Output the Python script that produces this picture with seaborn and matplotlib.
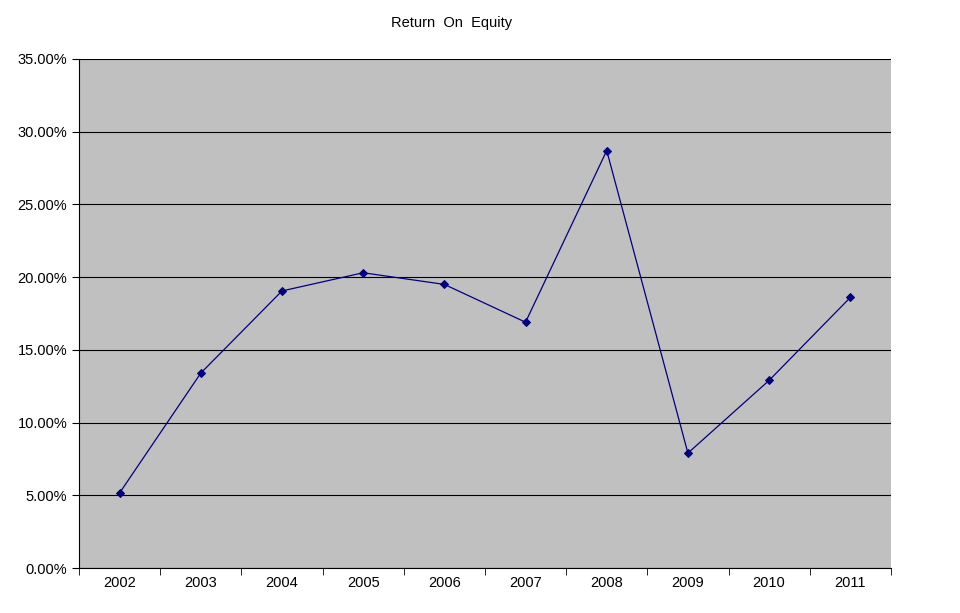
import matplotlib
matplotlib.use("Agg")
import matplotlib.pyplot as plt
import seaborn as sns
import pandas as pd
from matplotlib.ticker import FixedLocator, PercentFormatter

# Data
years = ["2002", "2003", "2004", "2005", "2006", "2007", "2008", "2009", "2010", "2011"]
roe = [5.16, 13.40, 19.05, 20.30, 19.50, 16.90, 28.70, 7.90, 12.90, 18.60]

df = pd.DataFrame({"pos": range(len(years)), "roe": roe})

sns.set_style("white")
plt.rcParams['font.family'] = ['Liberation Sans', 'DejaVu Sans']
plt.rcParams['text.color'] = 'black'
plt.rcParams['xtick.color'] = 'black'
plt.rcParams['ytick.color'] = 'black'

fig = plt.figure(figsize=(9.6, 6.13), dpi=100)
ax = fig.add_axes([0.0823, 0.0734, 0.8457, 0.8304])
ax.set_facecolor("#c0c0c0")

sns.lineplot(data=df, x="pos", y="roe", ax=ax, color="#000080", linewidth=0.9,
             marker="D", markersize=4.5, markeredgecolor="#000080")

ax.set_xlim(-0.5, len(years) - 0.5)
ax.set_ylim(0, 35)
ax.set_yticks([i * 5 for i in range(8)])
ax.yaxis.set_major_formatter(PercentFormatter(decimals=2))
ax.grid(axis="y", color="black", linewidth=0.8)
ax.set_axisbelow(True)

ax.set_xticks(range(len(years)))
ax.set_xticklabels(years)
ax.xaxis.set_minor_locator(FixedLocator([i - 0.5 for i in range(len(years) + 1)]))
ax.tick_params(axis="x", which="major", length=0, labelsize=10.5, pad=6, labelcolor="black")
ax.tick_params(axis="x", which="minor", length=5, direction="out", color="black")
ax.tick_params(axis="y", length=5, direction="out", labelsize=10.5, color="black", labelcolor="black")
ax.yaxis.set_ticks_position("left")
ax.xaxis.set_ticks_position("bottom")

for side in ["top", "right"]:
    ax.spines[side].set_visible(False)
for side in ["left", "bottom"]:
    ax.spines[side].set_color("black")
    ax.spines[side].set_linewidth(0.8)

ax.set_xlabel("")
ax.set_ylabel("")
fig.text(0.47, 0.962, "Return  On  Equity", ha="center", va="center", fontsize=10.5, color="black")

fig.savefig("out.png", dpi=100, facecolor="white")
